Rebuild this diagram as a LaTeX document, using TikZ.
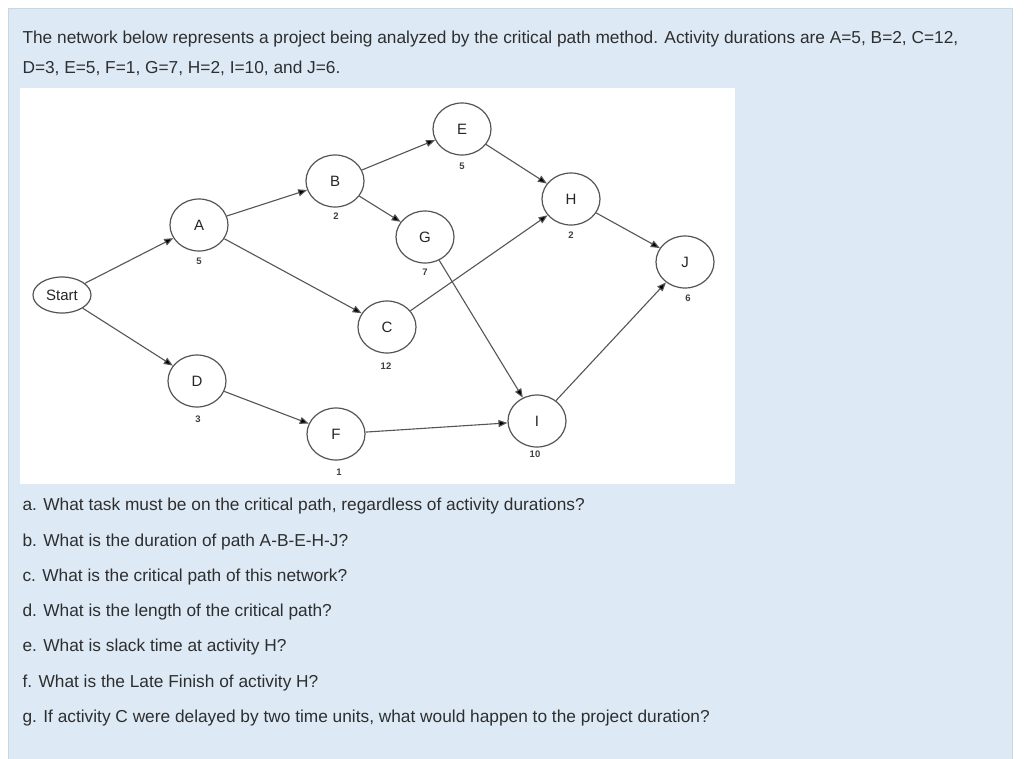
\documentclass[tikz,border=0pt]{standalone}
\usepackage{fontspec}
\setmainfont{Liberation Sans}
\usetikzlibrary{shapes.geometric,arrows.meta}
\definecolor{panel}{HTML}{DDEAF6}
\definecolor{pborder}{HTML}{C9D6E3}
\definecolor{txt}{HTML}{2E2E2E}
\definecolor{edge}{HTML}{555555}
\begin{document}
\begin{tikzpicture}[x=1pt,y=-1pt,
  act/.style={ellipse,draw=edge,line width=1.2pt,minimum width=58pt,minimum height=52pt,inner sep=0pt,font=\fontsize{15}{15}\selectfont,text=black!85},
  dur/.style={font=\bfseries\fontsize{9.5}{9.5}\selectfont,text=black!75},
  con/.style={draw=edge,line width=1.1pt,-{Triangle[length=9pt,width=7pt,fill=black]}},
  q/.style={anchor=west,font=\fontsize{17.3}{17.3}\selectfont,text=txt}]
\useasboundingbox (0,0) rectangle (1024,758);
\fill[white] (0,0) rectangle (1024,758);
\filldraw[fill=panel,draw=pborder] (8,8) rectangle (1012,760);
\fill[white] (20,88) rectangle (735,484);
\node[q] (t1) at (19,39) {The network below represents a project being analyzed by the critical path method. Activity durations are A=5, B=2, C=12,};
\node[q] (t2) at (19,68) {D=3, E=5, F=1, G=7, H=2, I=10, and J=6.};
\node[act,minimum width=58pt,minimum height=36pt] (S) at (62,295) {Start};
\node[act] (A) at (199,225) {A};
\node[act] (B) at (335,181) {B};
\node[act] (E) at (462,129) {E};
\node[act] (G) at (425,237) {G};
\node[act] (H) at (571,199) {H};
\node[act] (J) at (685,262) {J};
\node[act] (C) at (387,327) {C};
\node[act] (D) at (197,381) {D};
\node[act] (F) at (336,434) {F};
\node[act] (I) at (537,421) {I};
\node[dur] (dA) at (199,261) {5};
\node[dur] (dB) at (336,216) {2};
\node[dur] (dE) at (462,166) {5};
\node[dur] (dG) at (425,272) {7};
\node[dur] (dH) at (571,235) {2};
\node[dur] (dJ) at (688,298) {6};
\node[dur] (dC) at (386,366) {12};
\node[dur] (dD) at (198,419) {3};
\node[dur] (dF) at (339,472) {1};
\node[dur] (dI) at (535,454) {10};
\draw[con] (S) -- (A);
\draw[con] (S) -- (D);
\draw[con] (A) -- (B);
\draw[con] (A) -- (C);
\draw[con] (B) -- (E);
\draw[con] (B) -- (G);
\draw[con] (E) -- (H);
\draw[con] (C) -- (H);
\draw[con] (G) -- (I);
\draw[con] (H) -- (J);
\draw[con] (I) -- (J);
\draw[con] (D) -- (F);
\draw[con] (F) -- (I);
\node[q] (qa) at (19,506) {a. What task must be on the critical path, regardless of activity durations?};
\node[q] (qb) at (19,542) {b. What is the duration of path A-B-E-H-J?};
\node[q] (qc) at (19,577) {c. What is the critical path of this network?};
\node[q] (qd) at (19,612) {d. What is the length of the critical path?};
\node[q] (qe) at (19,647) {e. What is slack time at activity H?};
\node[q] (qf) at (19,683) {f. What is the Late Finish of activity H?};
\node[q] (qg) at (19,718) {g. If activity C were delayed by two time units, what would happen to the project duration?};
\end{tikzpicture}
\end{document}
